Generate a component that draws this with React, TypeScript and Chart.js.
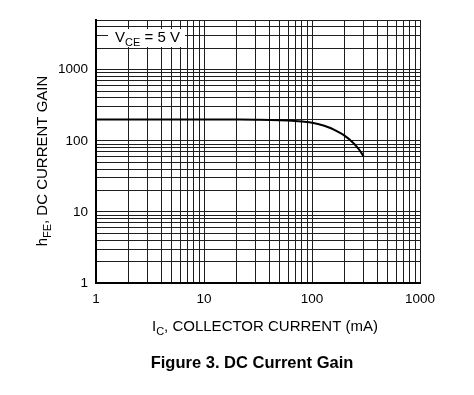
import React, { useEffect, useRef } from "react";
import { Chart, registerables } from "chart.js";

Chart.register(...registerables);

const currentMA = [1, 2, 5, 10, 20, 30, 50, 70, 100, 130, 150, 180, 200, 240, 270, 300];
const hFE = [200, 200, 200, 200, 199, 198, 195, 190, 180, 163, 150, 130, 118, 94, 77, 61];

const xGridValues = [1, 2, 3, 4, 5, 6, 7, 8, 9, 10, 20, 30, 40, 50, 60, 70, 80, 90, 100, 200, 300, 400, 500, 600, 700, 800, 900, 1000];
const yGridValues = [1, 2, 3, 4, 5, 6, 7, 8, 9, 10, 20, 30, 40, 50, 60, 70, 80, 90, 100, 200, 300, 400, 500, 600, 700, 800, 900, 1000, 2000, 3000, 4000, 5000];
const xTickLabels = [1, 10, 100, 1000];
const yTickLabels = [1, 10, 100, 1000];

const FONT = "'Liberation Sans', Arial, Helvetica, sans-serif";

function drawSubText(
  ctx: CanvasRenderingContext2D,
  parts: { t: string; sub?: boolean }[],
  cx: number,
  baseline: number,
  size: number,
  subSize: number
) {
  let total = 0;
  const widths = parts.map((p) => {
    ctx.font = `${p.sub ? subSize : size}px ${FONT}`;
    const w = ctx.measureText(p.t).width;
    total += w;
    return w;
  });
  let x = cx - total / 2;
  parts.forEach((p, i) => {
    ctx.font = `${p.sub ? subSize : size}px ${FONT}`;
    ctx.fillText(p.t, x, baseline + (p.sub ? 4 : 0));
    x += widths[i];
  });
}

const textPlugin = {
  id: "texts",
  afterDraw(chart: any) {
    const ctx: CanvasRenderingContext2D = chart.ctx;
    ctx.save();
    ctx.fillStyle = "#fff";
    ctx.fillRect(108, 29, 77, 18);
    ctx.fillStyle = "#000";
    ctx.textAlign = "left";
    ctx.textBaseline = "alphabetic";
    // V_CE = 5 V
    const vParts = [{ t: "V" }, { t: "CE", sub: true }, { t: " = 5 V" }];
    let x = 115;
    vParts.forEach((p: any) => {
      ctx.font = `${p.sub ? 11 : 15}px ${FONT}`;
      ctx.fillText(p.t, x, 42 + (p.sub ? 4 : 0));
      x += ctx.measureText(p.t).width;
    });
    // x title
    drawSubText(ctx, [{ t: "I" }, { t: "C", sub: true }, { t: ", COLLECTOR CURRENT (mA)" }], 265, 331, 15, 11);
    // y title
    ctx.save();
    ctx.translate(47, 161);
    ctx.rotate(-Math.PI / 2);
    drawSubText(ctx, [{ t: "h" }, { t: "FE", sub: true }, { t: ", DC CURRENT GAIN" }], 0, 0, 15, 11);
    ctx.restore();
    // figure title
    ctx.font = `bold 16.5px ${FONT}`;
    ctx.textAlign = "center";
    ctx.fillText("Figure 3. DC Current Gain", 252, 368);
    ctx.restore();
  },
};

export default function App() {
  const ref = useRef<HTMLCanvasElement>(null);
  useEffect(() => {
    if (!ref.current) return;
    const chart = new Chart(ref.current, {
      type: "line",
      data: {
        datasets: [
          {
            data: currentMA.map((c, i) => ({ x: c, y: hFE[i] })),
            borderColor: "#000",
            borderWidth: 2,
            pointRadius: 0,
            cubicInterpolationMode: "monotone",
            fill: false,
          },
        ],
      },
      options: {
        responsive: false,
        animation: false,
        events: [],
        layout: { padding: { left: 0, top: 20, right: 54, bottom: 82 } },
        plugins: { legend: { display: false }, tooltip: { enabled: false }, title: { display: false } },
        scales: {
          x: {
            type: "logarithmic",
            min: 1,
            max: 1000,
            afterBuildTicks: (s: any) => {
              s.ticks = xGridValues.map((v) => ({ value: v }));
            },
            afterFit: (s: any) => {
              s.height = 30;
            },
            grid: { color: "#1e1e1e", lineWidth: 1, drawTicks: false },
            border: { display: true, color: "#000", width: 2 },
            ticks: {
              autoSkip: false,
              maxRotation: 0,
              padding: 8,
              color: "#000",
              font: { family: FONT, size: 13.5 },
              callback: (v: any) => (xTickLabels.includes(Number(v)) ? String(v) : ""),
            },
          },
          y: {
            type: "logarithmic",
            min: 1,
            max: 5000,
            afterBuildTicks: (s: any) => {
              s.ticks = yGridValues.map((v) => ({ value: v }));
            },
            afterFit: (s: any) => {
              s.width = 96;
            },
            grid: { color: "#1e1e1e", lineWidth: 1, drawTicks: false },
            border: { display: true, color: "#000", width: 2 },
            ticks: {
              autoSkip: false,
              padding: 8,
              color: "#000",
              font: { family: FONT, size: 13.5 },
              callback: (v: any) => (yTickLabels.includes(Number(v)) ? String(v) : ""),
            },
          },
        },
      },
      plugins: [textPlugin],
    } as any);
    return () => chart.destroy();
  }, []);
  return (
    <div style={{ position: "fixed", left: 0, top: 0, width: 474, height: 395, background: "#fff" }}>
      <canvas ref={ref} width={474} height={395} style={{ display: "block" }} />
    </div>
  );
}
